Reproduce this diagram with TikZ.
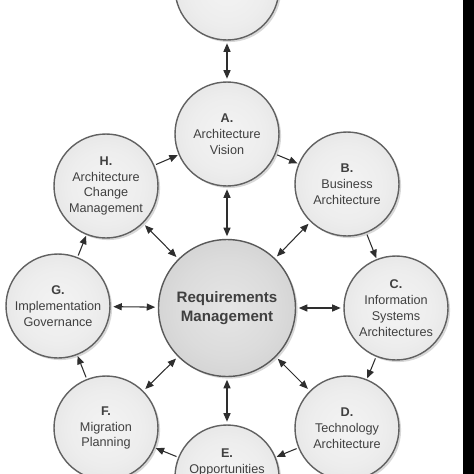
\documentclass[tikz,border=0pt]{standalone}
\usepackage{fontspec}
\setmainfont{Liberation Sans}
\usetikzlibrary{arrows.meta,shadows}

\pgfdeclareradialshading{phaseshade}{\pgfpoint{0bp}{0bp}}{color(0bp)=(gray!9); color(18bp)=(gray!14); color(50bp)=(gray!32)}
\pgfdeclareradialshading{coreshade}{\pgfpoint{0bp}{0bp}}{color(0bp)=(gray!20); color(18bp)=(gray!28); color(50bp)=(gray!50)}

\tikzset{
  phase/.style={circle, draw=black!62, line width=0.8pt, shade, shading=phaseshade,
    minimum size=2.08cm, inner sep=0pt, align=center, text=black!75,
    font=\fontsize{7.2}{9}\selectfont,
    drop shadow={shadow xshift=1.2pt, shadow yshift=-1.2pt, opacity=0.3}},
  core/.style={phase, shading=coreshade, draw=black!65, minimum size=2.74cm,
    font=\fontsize{8.6}{11}\selectfont\bfseries},
  link/.style={draw=black!82, line width=0.6pt, shorten <=1.5pt, shorten >=1.5pt,
    {Triangle[length=4.8pt,width=4pt]}-{Triangle[length=4.8pt,width=4pt]}},
  flow/.style={draw=black!82, line width=0.6pt, shorten <=1pt, shorten >=0.5pt,
    -{Triangle[length=4.8pt,width=4pt]}}
}

\begin{document}
\begin{tikzpicture}[x=0.02cm, y=-0.02cm]
    \useasboundingbox (0,0) rectangle (474,474);
    \clip (0,0) rectangle (474,474);
    \fill[white] (0,0) rectangle (474,474);

    %phases
    \node[phase] (prelim) at (227,-12) {};
    \node[phase] (A) at (227,134) {\textbf{A.}\\Architecture\\Vision};
    \node[phase] (B) at (347,184) {\textbf{B.}\\Business\\Architecture};
    \node[phase] (C) at (396,308) {\textbf{C.}\\Information\\Systems\\Architectures};
    \node[phase] (D) at (347,428) {\textbf{D.}\\Technology\\Architecture};
    \node[phase] (E) at (227,477) {\textbf{E.}\\Opportunities\\and\\Solutions};
    \node[phase] (F) at (106,428) {\textbf{F.}\\Migration\\Planning};
    \node[phase] (G) at (58,306) {\textbf{G.}\\Implementation\\Governance};
    \node[phase] (H) at (106,186) {\textbf{H.}\\Architecture\\Change\\Management};
    \node[core] (req) at (227,308) {Requirements\\Management};

    %links to requirements
    \draw[link] (prelim) -- (A);
    \draw[link] (req) -- (A);
    \draw[link] (req) -- (B);
    \draw[link] (req) -- (C);
    \draw[link] (req) -- (D);
    \draw[link] (req) -- (E);
    \draw[link] (req) -- (F);
    \draw[link] (req) -- (G);
    \draw[link] (req) -- (H);

    %cycle
    \draw[flow] (A) -- (B);
    \draw[flow] (B) -- (C);
    \draw[flow] (C) -- (D);
    \draw[flow] (D) -- (E);
    \draw[flow] (E) -- (F);
    \draw[flow] (F) -- (G);
    \draw[flow] (G) -- (H);
    \draw[flow] (H) -- (A);

    %edge
    \fill[black] (463,0) rectangle (474,474);
\end{tikzpicture}
\end{document}
